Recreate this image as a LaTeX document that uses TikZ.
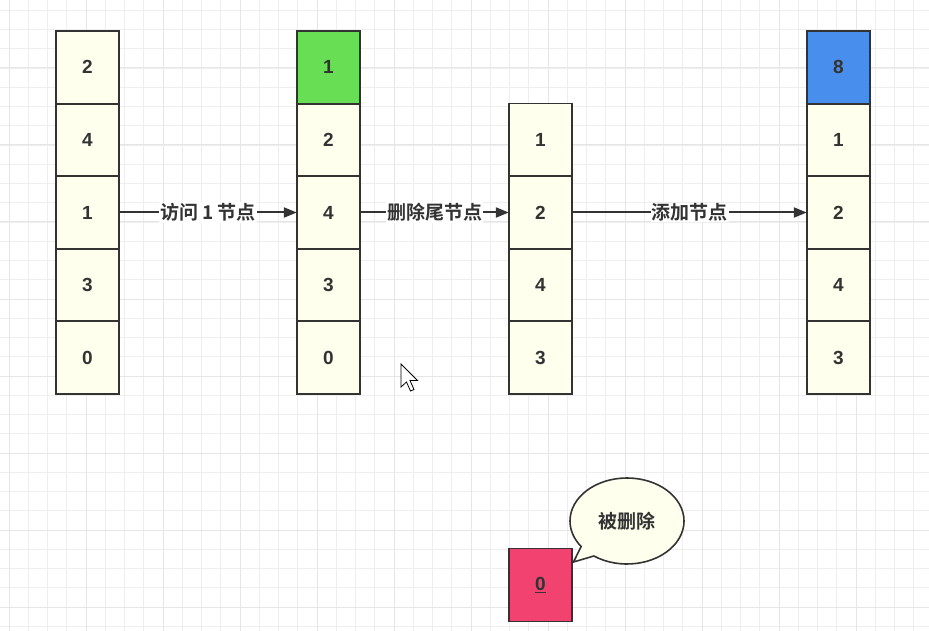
\documentclass[tikz,border=0pt]{standalone}
\usepackage{fontspec}
\setmainfont{Liberation Sans}
\newfontfamily\cjk{Noto Sans CJK SC}[BoldFont={Noto Sans CJK SC Bold}]
\usetikzlibrary{arrows.meta,shapes.callouts}
\definecolor{cream}{RGB}{255,255,238}
\definecolor{ink}{RGB}{51,51,51}
\definecolor{cgreen}{RGB}{104,222,84}
\definecolor{cblue}{RGB}{72,142,236}
\definecolor{cpink}{RGB}{242,66,112}
\definecolor{gminor}{RGB}{238,238,238}
\definecolor{gmajor}{RGB}{230,230,230}
\tikzset{
  cell/.style={fill=cream, minimum width=63pt, minimum height=72.6pt, inner sep=0pt, font=\fontsize{19}{21}\selectfont\bfseries, text=ink},
  border/.style={draw=ink, line width=1.6pt},
  arr/.style={draw=ink, line width=2pt, -{Triangle[length=13pt,width=10pt]}},
  lbl/.style={fill=white, inner sep=1pt, font=\cjk\bfseries\fontsize{19}{21}\selectfont, text=ink},
}
\begin{document}
\begin{tikzpicture}[x=1pt,y=-1pt]
\useasboundingbox (0,0) rectangle (929,631);
\fill[white] (0,0) rectangle (929,631);
% grid
\foreach \k in {0,...,48} {\pgfmathsetmacro\xx{9+19.25*\k}\draw[gminor, line width=0.8pt] (\xx,0) -- (\xx,631);}
\foreach \k in {0,...,33} {\pgfmathsetmacro\yy{10.25+19.25*\k}\draw[gminor, line width=0.8pt] (0,\yy) -- (929,\yy);}
\foreach \k in {0,...,12} {\pgfmathsetmacro\xx{9+77*\k}\draw[gmajor, line width=1pt] (\xx,0) -- (\xx,631);}
\foreach \k in {0,...,8} {\pgfmathsetmacro\yy{68+77*\k-77}\draw[gmajor, line width=1pt] (0,\yy) -- (929,\yy);}
% column 1
\node[cell] (a1) at (87.5,67.3) {2};
\node[cell] (a2) at (87.5,139.9) {4};
\node[cell] (a3) at (87.5,212.5) {1};
\node[cell] (a4) at (87.5,285.1) {3};
\node[cell] (a5) at (87.5,357.7) {0};
% column 2
\node[cell, fill=cgreen] (b1) at (328.5,67.3) {1};
\node[cell] (b2) at (328.5,139.9) {2};
\node[cell] (b3) at (328.5,212.5) {4};
\node[cell] (b4) at (328.5,285.1) {3};
\node[cell] (b5) at (328.5,357.7) {0};
% column 3
\node[cell] (c2) at (540.5,139.9) {1};
\node[cell] (c3) at (540.5,212.5) {2};
\node[cell] (c4) at (540.5,285.1) {4};
\node[cell] (c5) at (540.5,357.7) {3};
% column 4
\node[cell, fill=cblue] (d1) at (838.5,67.3) {8};
\node[cell] (d2) at (838.5,139.9) {1};
\node[cell] (d3) at (838.5,212.5) {2};
\node[cell] (d4) at (838.5,285.1) {4};
\node[cell] (d5) at (838.5,357.7) {3};
% deleted
\node[cell, fill=cpink] (del) at (540.5,585) {\underline{0}};
% borders
\foreach \n in {a1,a2,a3,a4,a5,b1,b2,b3,b4,b5,c2,c3,c4,c5,d1,d2,d3,d4,d5,del}
  \draw[border] (\n.north west) rectangle (\n.south east);
% arrows
\draw[arr] (a3.east) -- node[lbl] {访问 1 节点} (b3.west);
\draw[arr] (b3.east) -- node[lbl] {删除尾节点} (c3.west);
\draw[arr] (c3.east) -- node[lbl] {添加节点} (d3.west);
% bubble
\coordinate (tip) at (573.5,562);
\node[ellipse callout, draw=ink, line width=1.6pt, fill=cream, minimum width=114pt, minimum height=86pt, inner sep=0pt,
  callout absolute pointer={(tip)}, callout pointer arc=18, font=\cjk\bfseries\fontsize{19}{21}\selectfont, text=ink] (bub) at (627,521) {被删除};
% cursor
\draw[black, fill=white, line width=0.8pt, line join=miter] (401,364) -- (401,387) -- (406.5,382) -- (410.5,391) -- (414,389.5) -- (410,380.5) -- (417.5,380.5) -- cycle;
\end{tikzpicture}
\end{document}
